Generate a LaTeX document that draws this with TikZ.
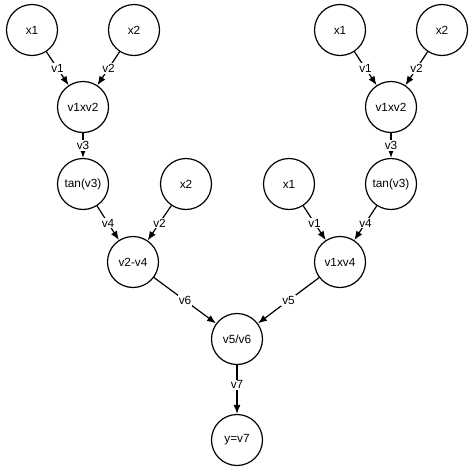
\documentclass[tikz,border=0pt]{standalone}
\usepackage{fontspec}
\setmainfont{Liberation Sans}
\usetikzlibrary{arrows.meta}
\begin{document}
\begin{tikzpicture}[x=1pt,y=-1pt,
  op/.style={circle,draw,line width=1.2pt,minimum size=51pt,inner sep=0pt,font=\fontsize{11.8}{13}\selectfont},
  edge/.style={-{Latex[length=9pt,width=7pt]},line width=1.2pt},
  lbl/.style={fill=white,inner sep=1pt,font=\fontsize{11.8}{13}\selectfont}]
\useasboundingbox (0,0) rectangle (474,474);
% left branch
\node[op] (lx1) at (32,30) {x1};
\node[op] (lx2) at (134,30) {x2};
\node[op] (lm) at (83,107) {v1xv2};
\node[op] (lt) at (83,184) {tan(v3)};
\node[op] (mx2) at (186,184) {x2};
\node[op] (sub) at (133,262) {v2-v4};
% right branch
\node[op] (rx1) at (340,30) {x1};
\node[op] (rx2) at (442,30) {x2};
\node[op] (rm) at (391,107) {v1xv2};
\node[op] (rt) at (391,184) {tan(v3)};
\node[op] (mx1) at (289,184) {x1};
\node[op] (mul) at (340,262) {v1xv4};
% bottom
\node[op] (div) at (237,339) {v5/v6};
\node[op] (y) at (237,440) {y=v7};
% edges
\draw[edge] (lx1) -- node[lbl]{v1} (lm);
\draw[edge] (lx2) -- node[lbl]{v2} (lm);
\draw[edge] (lm) -- node[lbl]{v3} (lt);
\draw[edge] (lt) -- node[lbl]{v4} (sub);
\draw[edge] (mx2) -- node[lbl]{v2} (sub);
\draw[edge] (rx1) -- node[lbl]{v1} (rm);
\draw[edge] (rx2) -- node[lbl]{v2} (rm);
\draw[edge] (rm) -- node[lbl]{v3} (rt);
\draw[edge] (mx1) -- node[lbl]{v1} (mul);
\draw[edge] (rt) -- node[lbl]{v4} (mul);
\draw[edge] (sub) -- node[lbl]{v6} (div);
\draw[edge] (mul) -- node[lbl]{v5} (div);
\draw[edge] (div) -- node[lbl,pos=0.4]{v7} (y);
\end{tikzpicture}
\end{document}
